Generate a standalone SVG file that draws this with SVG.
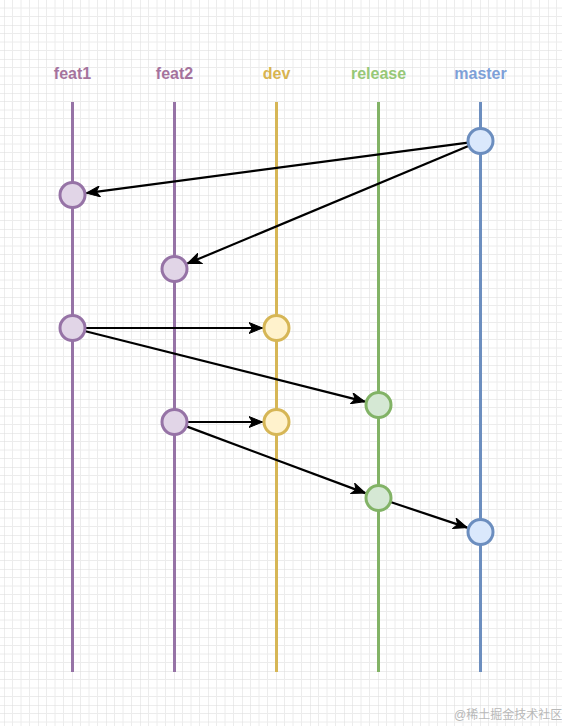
<svg xmlns="http://www.w3.org/2000/svg" width="562" height="726" viewBox="0 0 562 726">
  <style>
    .lbl { font-family: "Liberation Sans", Arial, sans-serif; font-weight: bold; font-size: 16px; text-anchor: middle; }
    .lane { stroke-width: 3; fill: none; }
    .node { stroke-width: 3; }
    .purple { stroke: #9673A6; }
    .yellow { stroke: #D6B656; }
    .green { stroke: #82B366; }
    .blue { stroke: #6C8EBF; }
    .n-purple { fill: #E1D5E7; stroke: #9673A6; }
    .n-yellow { fill: #FFF2CC; stroke: #D6B656; }
    .n-green { fill: #D5E8D4; stroke: #82B366; }
    .n-blue { fill: #DAE8FC; stroke: #6C8EBF; }
    .edge { stroke: #000; stroke-width: 2.2; fill: none; marker-end: url(#arrow); }
    .wm { font-family: "Liberation Sans", "Noto Sans CJK SC", sans-serif; font-size: 12px; fill: #b8b8b8; }
  </style>
  <defs>
    <pattern id="grid" patternUnits="userSpaceOnUse" x="4" y="25" width="34" height="34">
      <path d="M8.5 0V34M17 0V34M25.5 0V34M0 8.5H34M0 17H34M0 25.5H34" stroke="#ececec" stroke-width="1" fill="none"/>
      <path d="M0 0V34M0 0H34" stroke="#dcdcdc" stroke-width="1" fill="none"/>
    </pattern>
    <marker id="arrow" markerUnits="userSpaceOnUse" markerWidth="15" markerHeight="12" refX="14" refY="6" orient="auto" viewBox="0 0 15 12">
      <path d="M0.5,0.5 L14,6 L0.5,11.5 L4,6 Z" fill="#000" stroke="#000" stroke-width="1"/>
    </marker>
  </defs>
  <rect width="562" height="726" fill="#ffffff"/>
  <rect width="562" height="726" fill="url(#grid)"/>

  <g id="lanes">
    <g id="lane-feat1">
      <text class="lbl" x="72.5" y="79" fill="#A5739D">feat1</text>
      <line class="lane purple" x1="72.5" y1="102" x2="72.5" y2="672"/>
    </g>
    <g id="lane-feat2">
      <text class="lbl" x="174.5" y="79" fill="#A5739D">feat2</text>
      <line class="lane purple" x1="174.5" y1="102" x2="174.5" y2="672"/>
    </g>
    <g id="lane-dev">
      <text class="lbl" x="276.5" y="79" fill="#D8B451">dev</text>
      <line class="lane yellow" x1="276.5" y1="102" x2="276.5" y2="672"/>
    </g>
    <g id="lane-release">
      <text class="lbl" x="378.5" y="79" fill="#97C877">release</text>
      <line class="lane green" x1="378.5" y1="102" x2="378.5" y2="672"/>
    </g>
    <g id="lane-master">
      <text class="lbl" x="480.5" y="79" fill="#7EA0D8">master</text>
      <line class="lane blue" x1="480.5" y1="102" x2="480.5" y2="672"/>
    </g>
  </g>

  <g id="connectors">
    <line class="edge" x1="468.1" y1="142.6" x2="86.4" y2="193.2"/>
    <line class="edge" x1="469" y1="145.8" x2="187.4" y2="263.6"/>
    <line class="edge" x1="86" y1="328" x2="262.5" y2="328"/>
    <line class="edge" x1="84.5" y1="331" x2="364.9" y2="401.6"/>
    <line class="edge" x1="188" y1="422" x2="262.5" y2="422"/>
    <line class="edge" x1="186.5" y1="426.4" x2="365.4" y2="493.1"/>
    <line class="edge" x1="390.5" y1="502" x2="467.2" y2="527.6"/>
  </g>

  <g id="node-master-1"><circle class="node n-blue" cx="480.5" cy="141" r="12.5"/></g>
  <g id="node-feat1-1"><circle class="node n-purple" cx="72.5" cy="195" r="12.5"/></g>
  <g id="node-feat2-1"><circle class="node n-purple" cx="174.5" cy="269" r="12.5"/></g>
  <g id="node-feat1-2"><circle class="node n-purple" cx="72.5" cy="328" r="12.5"/></g>
  <g id="node-dev-1"><circle class="node n-yellow" cx="276.5" cy="328" r="12.5"/></g>
  <g id="node-release-1"><circle class="node n-green" cx="378.5" cy="405" r="12.5"/></g>
  <g id="node-feat2-2"><circle class="node n-purple" cx="174.5" cy="422" r="12.5"/></g>
  <g id="node-dev-2"><circle class="node n-yellow" cx="276.5" cy="422" r="12.5"/></g>
  <g id="node-release-2"><circle class="node n-green" cx="378.5" cy="498" r="12.5"/></g>
  <g id="node-master-2"><circle class="node n-blue" cx="480.5" cy="532" r="12.5"/></g>

  <text class="wm" x="454" y="719">@稀土掘金技术社区</text>
</svg>
